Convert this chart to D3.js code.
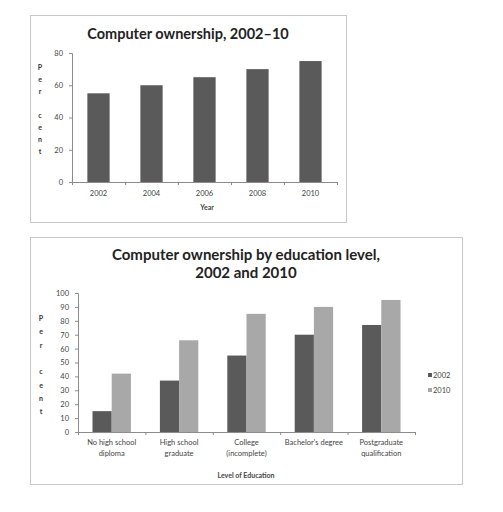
<!DOCTYPE html>
<html>
<head>
<meta charset="utf-8">
<script src="https://cdn.jsdelivr.net/npm/d3@7"></script>
<style>
  body { margin: 0; background: #fff; }
  text { font-family: Lato, "Open Sans", sans-serif; fill: #444; }
</style>
</head>
<body>
<script>
// chart 1 data
const years = ["2002", "2004", "2006", "2008", "2010"];
const ownership = [55, 60, 65, 70, 75];
const yTicks1 = [0, 20, 40, 60, 80];

// chart 2 data
const levels = [["No high school", "diploma"], ["High school", "graduate"], ["College", "(incomplete)"], ["Bachelor's degree"], ["Postgraduate", "qualification"]];
const seriesNames = ["2002", "2010"];
const own2002 = [15, 37, 55, 70, 77];
const own2010 = [42, 66, 85, 90, 95];
const yTicks2 = [0, 10, 20, 30, 40, 50, 60, 70, 80, 90, 100];

const dark = "#5a5a5a", light = "#a8a8a8", axisCol = "#8c8c8c";

var svg = d3.select("body").append("svg").attr("width", 503).attr("height", 512);

function perCent(x, y0, step) {
    let chars = "Per cent".split("");
    chars.forEach(function(c, i) {
        if (c == " ") return;
        svg.append("text").attr("x", x).attr("y", y0 + i * step)
            .style("text-anchor", "middle").style("font-size", 7).style("font-weight", "bold")
            .style("fill", "#333").text(c);
    });
}

// ---------- chart 1 ----------
svg.append("rect").attr("x", 30.5).attr("y", 15.5).attr("width", 316).attr("height", 207)
    .attr("fill", "#fff").attr("stroke", "#c8c8c8");

svg.append("text").attr("x", 188).attr("y", 39)
    .style("text-anchor", "middle").style("font-size", 14.5).style("font-weight", "bold")
    .style("fill", "#222").text("Computer ownership, 2002\u201310");

let x1 = d3.scaleBand().domain(years).range([72, 337]).paddingInner(0.58).paddingOuter(0.29);
let y1 = d3.scaleLinear().domain([0, 80]).range([182, 53]);

svg.append("g").attr("transform", "translate(72,0)")
    .call(d3.axisLeft(y1).tickValues(yTicks1).tickSize(3).tickPadding(6))
    .call(g => g.selectAll("path, line").attr("stroke", axisCol))
    .call(g => g.selectAll("text").style("font-size", 7.5).style("fill", "#444"));

let xb1 = d3.scaleLinear().domain([0, 5]).range([72, 337]);
svg.append("g").attr("transform", "translate(0,182)")
    .call(d3.axisBottom(xb1).ticks(5).tickSize(3).tickFormat(""))
    .call(g => g.selectAll("path, line").attr("stroke", axisCol));

svg.selectAll(".bar1").data(ownership).enter().append("rect")
    .attr("class", "bar1")
    .attr("x", (d, i) => x1(years[i]))
    .attr("y", d => y1(d))
    .attr("width", x1.bandwidth())
    .attr("height", d => y1(0) - y1(d))
    .attr("fill", dark);

svg.selectAll(".xl1").data(years).enter().append("text")
    .attr("x", d => x1(d) + x1.bandwidth() / 2).attr("y", 196)
    .style("text-anchor", "middle").style("font-size", 7.5).text(d => d);

svg.append("text").attr("x", 207).attr("y", 210)
    .style("text-anchor", "middle").style("font-size", 7).style("font-weight", "bold").text("Year");

perCent(40, 70, 12);

// ---------- chart 2 ----------
svg.append("rect").attr("x", 30.5).attr("y", 237.5).attr("width", 432).attr("height", 247)
    .attr("fill", "#fff").attr("stroke", "#c8c8c8");

svg.append("text").attr("x", 246).attr("y", 260)
    .style("text-anchor", "middle").style("font-size", 15).style("font-weight", "bold")
    .style("fill", "#222").text("Computer ownership by education level,");
svg.append("text").attr("x", 246).attr("y", 278)
    .style("text-anchor", "middle").style("font-size", 15).style("font-weight", "bold")
    .style("fill", "#222").text("2002 and 2010");

let idx = d3.range(levels.length);
let x2 = d3.scaleBand().domain(idx).range([78, 415]).paddingInner(0.43).paddingOuter(0.215);
let xs = d3.scaleBand().domain(seriesNames).range([0, x2.bandwidth()]);
let y2 = d3.scaleLinear().domain([0, 100]).range([432, 293]);

svg.append("g").attr("transform", "translate(78,0)")
    .call(d3.axisLeft(y2).tickValues(yTicks2).tickSize(3).tickPadding(6))
    .call(g => g.selectAll("path, line").attr("stroke", axisCol))
    .call(g => g.selectAll("text").style("font-size", 7.5).style("fill", "#444"));

let xb2 = d3.scaleLinear().domain([0, 5]).range([78, 415]);
svg.append("g").attr("transform", "translate(0,432)")
    .call(d3.axisBottom(xb2).ticks(5).tickSize(3).tickFormat(""))
    .call(g => g.selectAll("path, line").attr("stroke", axisCol));

let bars2 = [];
idx.forEach(function(i) {
    bars2.push({ i: i, s: "2002", v: own2002[i] });
    bars2.push({ i: i, s: "2010", v: own2010[i] });
});
let color = d3.scaleOrdinal().domain(seriesNames).range([dark, light]);

svg.selectAll(".bar2").data(bars2).enter().append("rect")
    .attr("class", "bar2")
    .attr("x", d => x2(d.i) + xs(d.s))
    .attr("y", d => y2(d.v))
    .attr("width", xs.bandwidth())
    .attr("height", d => y2(0) - y2(d.v))
    .attr("fill", d => color(d.s));

idx.forEach(function(i) {
    levels[i].forEach(function(line, j) {
        svg.append("text").attr("x", x2(i) + x2.bandwidth() / 2).attr("y", 445 + j * 10.5)
            .style("text-anchor", "middle").style("font-size", 7.5).text(line);
    });
});

svg.append("text").attr("x", 246).attr("y", 478)
    .style("text-anchor", "middle").style("font-size", 7).style("font-weight", "bold").text("Level of Education");

perCent(41, 321, 13.3);

// legend
seriesNames.forEach(function(s, i) {
    svg.append("rect").attr("x", 428).attr("y", 373 + i * 15).attr("width", 4).attr("height", 4)
        .attr("fill", color(s));
    svg.append("text").attr("x", 433).attr("y", 378 + i * 15)
        .style("font-size", 7.5).text(s);
});
</script>
</body>
</html>
